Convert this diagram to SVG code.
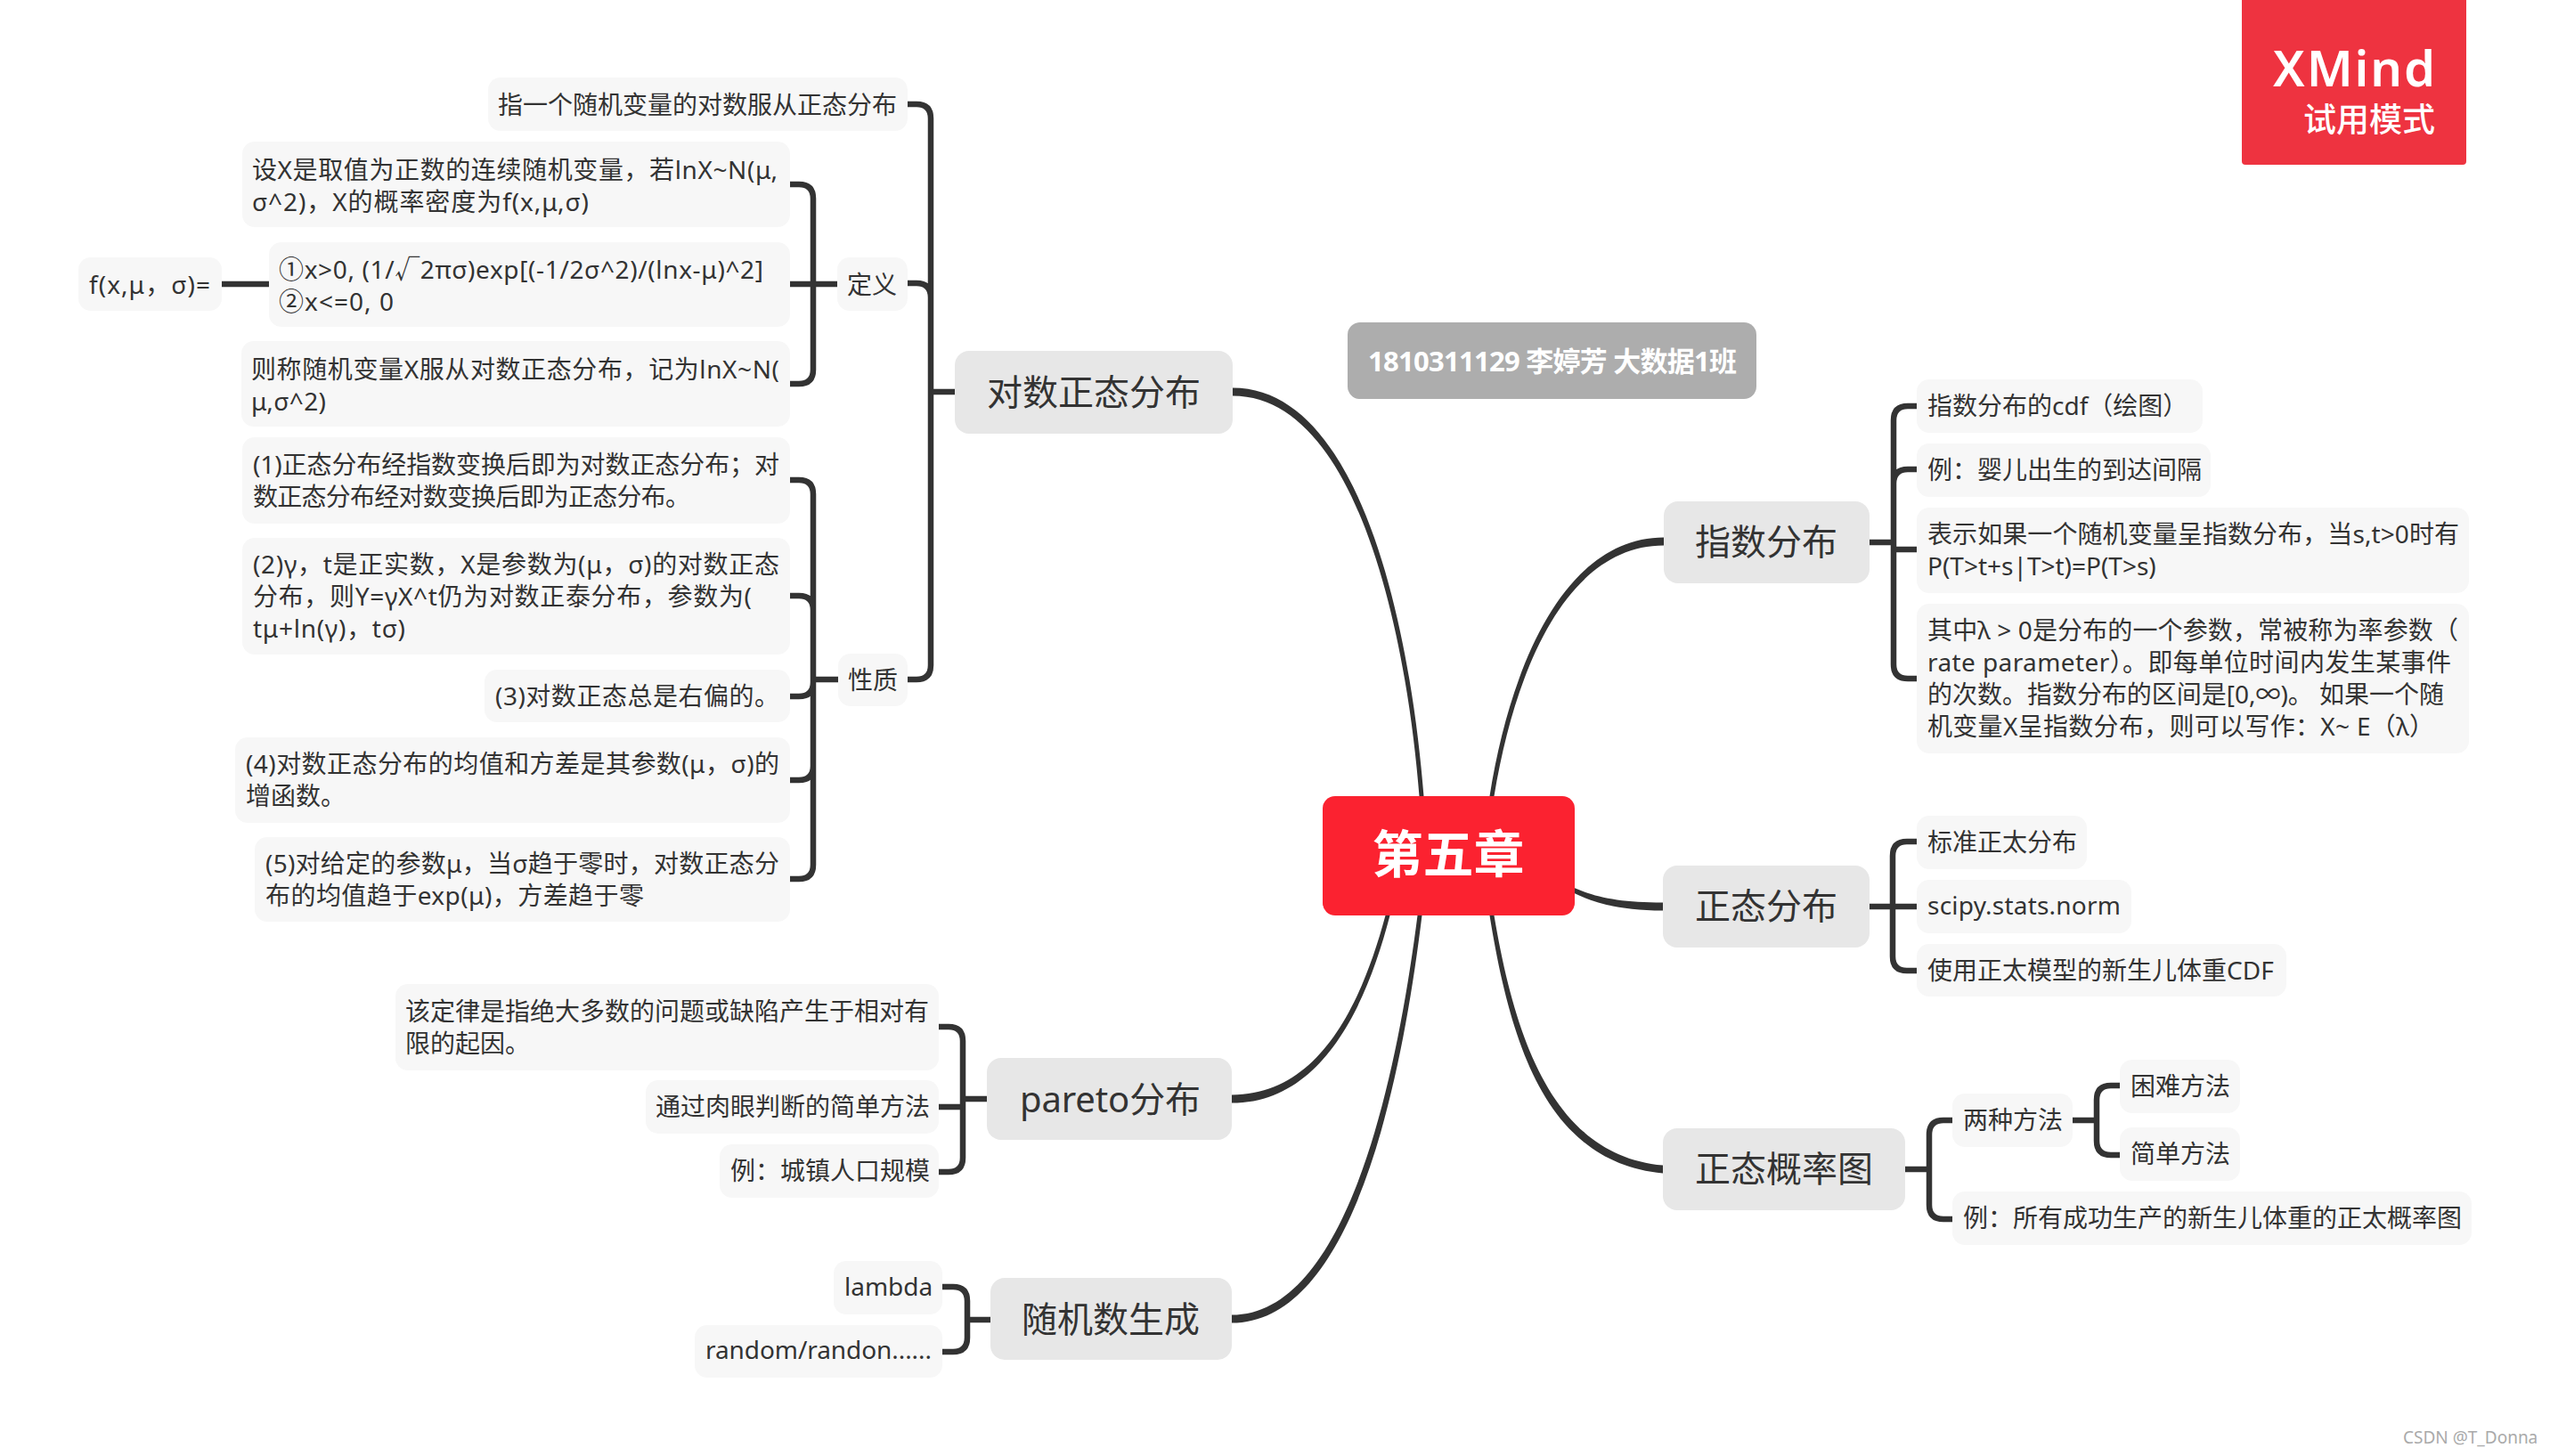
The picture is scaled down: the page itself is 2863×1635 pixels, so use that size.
<svg xmlns="http://www.w3.org/2000/svg" width="2863" height="1635" viewBox="0 0 2863 1635">
<style>
text{font-family:"Noto Sans","Noto Sans CJK SC",sans-serif;fill:#333}
.l rect{fill:#f7f7f7}
.l text{font-size:28px}
.t rect{fill:#e7e7e7}
.t text{font-size:40px}
.c{fill:none;stroke:#333;stroke-width:6.5;stroke-linecap:butt}
.m{fill:#333;stroke:none}
</style>
<rect width="2863" height="1635" fill="#fff"/>
<g id="connectors">
<path class="m" d="M1384 435.500C1526 435.500 1583 700 1598.500 894L1593.500 894C1578 700 1520 444.500 1384 444.500Z"/>
<path class="m" d="M1383 1229.500C1480 1229.500 1528 1130 1555.500 1028L1560.500 1028C1534 1130 1484 1238.500 1383 1238.500Z"/>
<path class="m" d="M1383 1476.500C1510 1476.500 1567 1220 1591.500 1028L1596.500 1028C1573 1220 1518 1485.500 1383 1485.500Z"/>
<path class="m" d="M1868 603.500C1760 603.500 1697 740 1672.500 894L1677.500 894C1703 740 1764 612.500 1868 612.500Z"/>
<path class="m" d="M1867 1013.500C1820 1013.500 1792 1008 1767.500 997L1767.500 1003C1790 1014 1820 1022.500 1867 1022.500Z"/>
<path class="m" d="M1867 1308.500C1750 1298 1703 1180 1677.500 1028L1672.500 1028C1697 1180 1740 1306 1867 1317.500Z"/>
<path class="c" d="M1019 117H1029Q1045 117 1045 133V747Q1045 763 1029 763H1019M1019 318H1029Q1045 318 1045 334M1045 440H1072"/>
<path class="c" d="M887 207H897Q913 207 913 223V415Q913 431 897 431H887M887 319H940M249 319H302"/>
<path class="c" d="M887 539H897Q913 539 913 555V971Q913 987 897 987H887M887 669H897Q913 669 913 685M887 782H897Q913 782 913 766M887 876H897Q913 876 913 860M913 763H941"/>
<path class="c" d="M1054 1153H1065Q1081 1153 1081 1169V1300Q1081 1316 1065 1316H1054M1054 1243H1081M1081 1234H1108"/>
<path class="c" d="M1058 1445H1070Q1086 1445 1086 1461V1502Q1086 1518 1070 1518H1058M1086 1482H1112"/>
<path class="c" d="M2152 456H2142Q2126 456 2126 472V746Q2126 762 2142 762H2152M2152 527H2142Q2126 527 2126 543M2152 617H2126M2099 609H2126"/>
<path class="c" d="M2152 945H2141Q2125 945 2125 961V1074Q2125 1090 2141 1090H2152M2099 1018H2152"/>
<path class="c" d="M2192 1258H2182Q2166 1258 2166 1274V1353Q2166 1369 2182 1369H2192M2139 1313H2166"/>
<path class="c" d="M2380 1219H2370Q2354 1219 2354 1235V1281Q2354 1297 2370 1297H2380M2327 1258H2354"/>
</g>
<g id="center"><rect x="1485" y="894" width="283" height="134" rx="14" fill="#fb2230"/><text x="1626" y="980" text-anchor="middle" font-size="57" font-weight="700" style="fill:#fff">第五章</text></g>
<g id="note"><rect x="1513" y="362" width="459" height="86" rx="14" fill="#adadad"/><text x="1536" y="417" textLength="414" lengthAdjust="spacing" font-size="31" font-weight="700" style="fill:#fff">1810311129 李婷芳 大数据1班</text></g>
<g id="trial"><path d="M2517 0H2769V181Q2769 185 2765 185H2521Q2517 185 2517 181Z" fill="#ee3340"/><text x="2552" y="97" textLength="182" lengthAdjust="spacing" font-size="56" font-weight="600" style="fill:#fff">XMind</text><text x="2734" y="148" text-anchor="end" font-size="37" font-weight="500" style="fill:#fff">试用模式</text></g>
<g id="t1" class="t"><rect x="1072" y="394" width="312" height="93" rx="16"/><text x="1228" y="455" text-anchor="middle">对数正态分布</text></g>
<g id="t2" class="t"><rect x="1108" y="1188" width="275" height="92" rx="16"/><text x="1145" y="1249" textLength="203" lengthAdjust="spacing">pareto分布</text></g>
<g id="t3" class="t"><rect x="1112" y="1435" width="271" height="92" rx="16"/><text x="1247" y="1496" text-anchor="middle">随机数生成</text></g>
<g id="t4" class="t"><rect x="1868" y="563" width="231" height="92" rx="16"/><text x="1983" y="623" text-anchor="middle">指数分布</text></g>
<g id="t5" class="t"><rect x="1867" y="972" width="232" height="92" rx="16"/><text x="1983" y="1032" text-anchor="middle">正态分布</text></g>
<g id="t6" class="t"><rect x="1867" y="1267" width="272" height="92" rx="16"/><text x="2003" y="1327" text-anchor="middle">正态概率图</text></g>
<g id="n1" class="l"><rect x="548" y="87" width="471" height="60" rx="14"/><text x="559" y="128">指一个随机变量的对数服从正态分布</text></g>
<g id="n2" class="l"><rect x="272" y="159" width="615" height="96" rx="14"/><text><tspan x="283" y="201" textLength="590" lengthAdjust="spacing">设X是取值为正数的连续随机变量，若lnX~N(μ,</tspan><tspan x="283" y="237" textLength="378" lengthAdjust="spacing">σ^2)，X的概率密度为f(x,μ,σ)</tspan></text></g>
<g id="n3" class="l"><rect x="302" y="272" width="585" height="95" rx="14"/><text><tspan x="313" y="313" textLength="544" lengthAdjust="spacing">①x&gt;0, (1/√2πσ)exp[(-1/2σ^2)/(lnx-μ)^2]</tspan><tspan x="313" y="349" textLength="129" lengthAdjust="spacing">②x&lt;=0, 0</tspan></text></g>
<g id="n4" class="l"><rect x="88" y="289" width="161" height="60" rx="14"/><text x="100" y="330" textLength="136" lengthAdjust="spacing">f(x,μ，σ)=</text></g>
<g id="n5" class="l"><rect x="940" y="289" width="79" height="60" rx="14"/><text x="951" y="330">定义</text></g>
<g id="n6" class="l"><rect x="271" y="383" width="616" height="96" rx="14"/><text><tspan x="282" y="425" textLength="593" lengthAdjust="spacing">则称随机变量X服从对数正态分布，记为lnX~N(</tspan><tspan x="282" y="461" textLength="84" lengthAdjust="spacing">μ,σ^2)</tspan></text></g>
<g id="n7" class="l"><rect x="272" y="491" width="615" height="97" rx="14"/><text><tspan x="284" y="532" textLength="591" lengthAdjust="spacing">(1)正态分布经指数变换后即为对数正态分布；对</tspan><tspan x="284" y="568" textLength="491" lengthAdjust="spacing">数正态分布经对数变换后即为正态分布。</tspan></text></g>
<g id="n8" class="l"><rect x="272" y="604" width="615" height="131" rx="14"/><text><tspan x="284" y="644" textLength="591" lengthAdjust="spacing">(2)γ，t是正实数，X是参数为(μ，σ)的对数正态</tspan><tspan x="284" y="680" textLength="560" lengthAdjust="spacing">分布，则Y=γX^t仍为对数正泰分布，参数为(</tspan><tspan x="284" y="716" textLength="171" lengthAdjust="spacing">tμ+ln(γ)，tσ)</tspan></text></g>
<g id="n9" class="l"><rect x="544" y="752" width="343" height="59" rx="14"/><text x="556" y="792" textLength="319" lengthAdjust="spacing">(3)对数正态总是右偏的。</text></g>
<g id="n10" class="l"><rect x="264" y="828" width="623" height="96" rx="14"/><text><tspan x="276" y="868" textLength="599" lengthAdjust="spacing">(4)对数正态分布的均值和方差是其参数(μ，σ)的</tspan><tspan x="276" y="904">增函数。</tspan></text></g>
<g id="n11" class="l"><rect x="286" y="940" width="601" height="95" rx="14"/><text><tspan x="298" y="980" textLength="577" lengthAdjust="spacing">(5)对给定的参数μ，当σ趋于零时，对数正态分</tspan><tspan x="298" y="1016" textLength="425" lengthAdjust="spacing">布的均值趋于exp(μ)，方差趋于零</tspan></text></g>
<g id="n12" class="l"><rect x="444" y="1105" width="610" height="97" rx="14"/><text x="455" y="1146">该定律是指绝大多数的问题或缺陷产生于相对有<tspan x="455" dy="36">限的起因。</tspan></text></g>
<g id="n13" class="l"><rect x="725" y="1213" width="329" height="60" rx="14"/><text x="736" y="1253">通过肉眼判断的简单方法</text></g>
<g id="n14" class="l"><rect x="808" y="1285" width="246" height="60" rx="14"/><text x="820" y="1325">例：城镇人口规模</text></g>
<g id="n15" class="l"><rect x="936" y="1416" width="122" height="60" rx="14"/><text x="948" y="1455">lambda</text></g>
<g id="n16" class="l"><rect x="780" y="1488" width="278" height="59" rx="14"/><text x="792" y="1526" textLength="254" lengthAdjust="spacing">random/randon......</text></g>
<g id="n17" class="l"><rect x="2152" y="426" width="321" height="60" rx="14"/><text x="2164" y="466">指数分布的cdf（绘图）</text></g>
<g id="n18" class="l"><rect x="2152" y="498" width="330" height="60" rx="14"/><text x="2164" y="538">例：婴儿出生的到达间隔</text></g>
<g id="n19" class="l"><rect x="2152" y="570" width="620" height="96" rx="14"/><text><tspan x="2164" y="610" textLength="597" lengthAdjust="spacing">表示如果一个随机变量呈指数分布，当s,t&gt;0时有</tspan><tspan x="2164" y="646">P(T&gt;t+s|T&gt;t)=P(T&gt;s)</tspan></text></g>
<g id="n20" class="l"><rect x="2152" y="678" width="620" height="168" rx="14"/><text><tspan x="2164" y="718" textLength="596" lengthAdjust="spacing">其中λ &gt; 0是分布的一个参数，常被称为率参数（</tspan><tspan x="2164" y="754" textLength="588" lengthAdjust="spacing">rate parameter）。即每单位时间内发生某事件</tspan><tspan x="2164" y="790" textLength="580" lengthAdjust="spacing">的次数。指数分布的区间是[0,∞)。 如果一个随</tspan><tspan x="2164" y="826" textLength="569" lengthAdjust="spacing">机变量X呈指数分布，则可以写作：X~ E（λ）</tspan></text></g>
<g id="n21" class="l"><rect x="2152" y="916" width="191" height="60" rx="14"/><text x="2164" y="956">标准正太分布</text></g>
<g id="n22" class="l"><rect x="2152" y="988" width="241" height="60" rx="14"/><text x="2164" y="1027" textLength="217" lengthAdjust="spacing">scipy.stats.norm</text></g>
<g id="n23" class="l"><rect x="2152" y="1060" width="415" height="59" rx="14"/><text x="2164" y="1100">使用正太模型的新生儿体重CDF</text></g>
<g id="n24" class="l"><rect x="2192" y="1228" width="135" height="60" rx="14"/><text x="2204" y="1268">两种方法</text></g>
<g id="n25" class="l"><rect x="2380" y="1190" width="135" height="60" rx="14"/><text x="2392" y="1230">困难方法</text></g>
<g id="n26" class="l"><rect x="2380" y="1266" width="135" height="60" rx="14"/><text x="2392" y="1306">简单方法</text></g>
<g id="n27" class="l"><rect x="2192" y="1338" width="583" height="60" rx="14"/><text x="2204" y="1378">例：所有成功生产的新生儿体重的正太概率图</text></g>
<g id="n28" class="l"><rect x="941" y="734" width="78" height="59" rx="14"/><text x="952" y="774">性质</text></g>
<g id="watermark"><text x="2698" y="1621" font-size="19" style="fill:#aaa">CSDN @T_Donna</text></g>
</svg>
